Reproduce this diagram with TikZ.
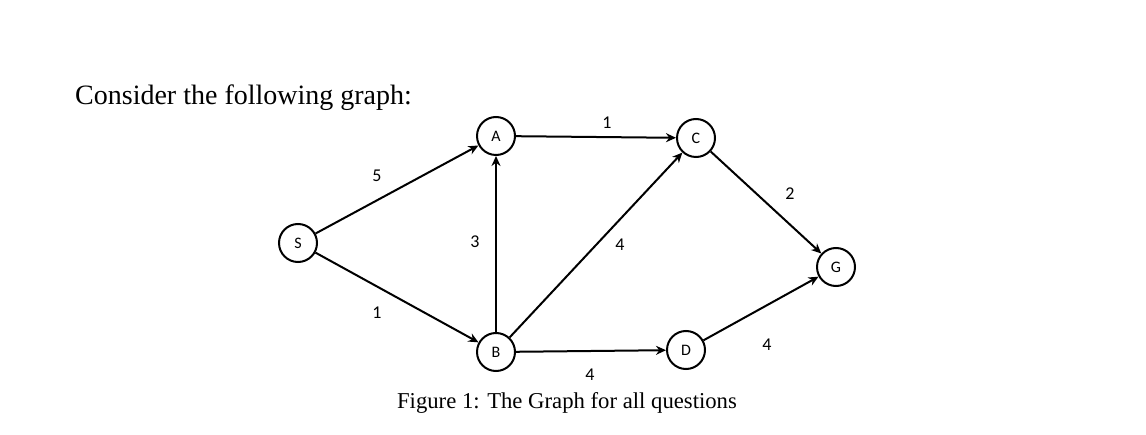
\documentclass[tikz,border=0pt]{standalone}
\usepackage{fontspec}
\setmainfont{Liberation Serif}
\newfontfamily\calib{Carlito}
\usetikzlibrary{arrows.meta}
\begin{document}
\begin{tikzpicture}[x=1pt,y=-1pt,
  vert/.style={circle,draw,line width=2pt,minimum size=38pt,inner sep=0pt,font=\calib\fontsize{16}{16}\selectfont},
  edge/.style={line width=2pt,-{Stealth[length=10pt,width=9pt]}},
  wt/.style={font=\calib\fontsize{18}{18}\selectfont}]
\useasboundingbox (0,0) rectangle (1146,435);
\node[anchor=west,inner sep=0pt,font=\fontsize{28}{28}\selectfont] (title) at (75,98) {Consider the following graph:};
\node[vert] (S) at (298,243) {S};
\node[vert] (A) at (496,136) {A};
\node[vert] (C) at (696,138) {C};
\node[vert] (G) at (836,267) {G};
\node[vert] (B) at (496,352) {B};
\node[vert] (D) at (686,350) {D};
\draw[edge] (S) -- (A);
\draw[edge] (S) -- (B);
\draw[edge] (A) -- (C);
\draw[edge] (B) -- (A);
\draw[edge] (B) -- (C);
\draw[edge] (B) -- (D);
\draw[edge] (C) -- (G);
\draw[edge] (D) -- (G);
\node[wt] (w1) at (607,123) {1};
\node[wt] (w2) at (377,176) {5};
\node[wt] (w3) at (475,242) {3};
\node[wt] (w4) at (620,245) {4};
\node[wt] (w5) at (790,194) {2};
\node[wt] (w6) at (377,313) {1};
\node[wt] (w7) at (767,345) {4};
\node[wt] (w8) at (590,375) {4};
\node[font=\fontsize{22.7}{22.7}\selectfont] (cap) at (567,403) {Figure 1: The Graph for all questions};
\end{tikzpicture}
\end{document}
